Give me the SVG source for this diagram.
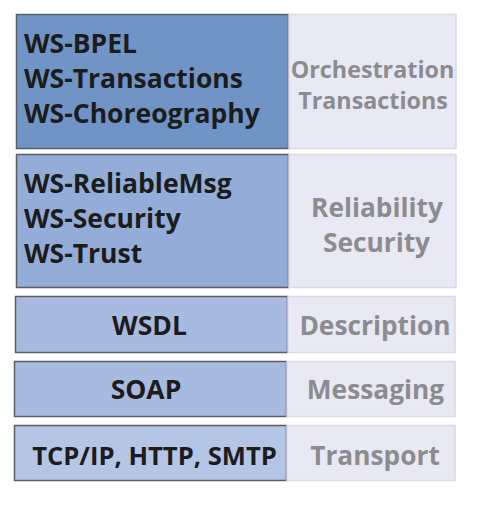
<svg xmlns="http://www.w3.org/2000/svg" width="486" height="532" viewBox="0 0 486 532">
<style>
.l{stroke:#5a5e66;stroke-width:1.5}
.r{fill:#e8e9f4;stroke:#d9dae3;stroke-width:1.5}
.t{font-family:"Open Sans","Liberation Sans",sans-serif;font-weight:bold;font-size:26.5px;fill:#1c1c1c}
.g{font-family:"Open Sans","Liberation Sans",sans-serif;font-weight:bold;font-size:26.3px;fill:#8c8c90;text-anchor:middle}
.s{font-size:23.3px}
</style>
<rect width="486" height="532" fill="#ffffff"/>
<g id="layer1">
<rect class="l" x="16.5" y="14.5" width="272" height="134" fill="#7094c6"/>
<rect class="r" x="289" y="14.5" width="167" height="134"/>
<text class="t" x="24" y="53">WS-BPEL</text>
<text class="t" x="24" y="88">WS-Transactions</text>
<text class="t" x="24" y="123">WS-Choreography</text>
<text class="g s" x="372.5" y="78">Orchestration</text>
<text class="g s" x="373" y="109">Transactions</text>
</g>
<g id="layer2">
<rect class="l" x="16.5" y="154.5" width="272" height="133" fill="#94acd8"/>
<rect class="r" x="289" y="154.5" width="167" height="133"/>
<text class="t" x="24" y="193">WS-ReliableMsg</text>
<text class="t" x="24" y="228">WS-Security</text>
<text class="t" x="24" y="263">WS-Trust</text>
<text class="g" x="377" y="217">Reliability</text>
<text class="g" x="376.5" y="252">Security</text>
</g>
<g id="layer3">
<rect class="l" x="15.5" y="296.5" width="272" height="56" fill="#a8badf"/>
<rect class="r" x="288" y="296.5" width="167" height="56"/>
<text class="t" x="149.5" y="335" text-anchor="middle">WSDL</text>
<text class="g" x="375" y="335">Description</text>
</g>
<g id="layer4">
<rect class="l" x="14.5" y="361.5" width="272" height="55" fill="#a8badf"/>
<rect class="r" x="287" y="361.5" width="168" height="55"/>
<text class="t" x="146" y="399" text-anchor="middle">SOAP</text>
<text class="g" x="375.5" y="399">Messaging</text>
</g>
<g id="layer5">
<rect class="l" x="14.5" y="425.5" width="272" height="55" fill="#b5c5e6" stroke="#8a8e98"/>
<rect class="r" x="287" y="425.5" width="168" height="55"/>
<text class="t" x="154.5" y="465" text-anchor="middle" style="font-size:25.6px">TCP/IP, HTTP, SMTP</text>
<text class="g" x="375" y="465">Transport</text>
</g>
<g id="connectors"/>
</svg>
